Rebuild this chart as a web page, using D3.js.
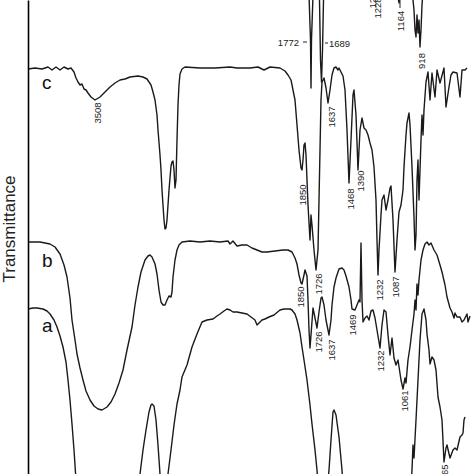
<!DOCTYPE html>
<html><head><meta charset="utf-8">
<script src="https://cdn.jsdelivr.net/npm/d3@7"></script>
<style>body{margin:0;background:#fff}svg{display:block}</style></head>
<body><svg id="chart" width="474" height="474"></svg>
<script>
// wavenumber (cm-1) , relative transmittance (arbitrary, offset-stacked units)
const seriesC=[[4048,405],[3992,406],[3936,405],[3888,407],[3856,404],[3824,407],[3792,404],[3760,407],[3728,405],[3704,406],[3680,402],[3664,396],[3648,392],[3632,389],[3616,390],[3600,385],[3584,384],[3568,381],[3544,377],[3512,374],[3472,377],[3432,382],[3392,387],[3352,391],[3312,394],[3272,395],[3232,397],[3168,398],[3128,397],[3096,395],[3064,389],[3048,382],[3032,374],[3016,359],[3008,344],[2992,319],[2984,304],[2976,284],[2968,269],[2960,254],[2952,245],[2944,246],[2936,254],[2928,269],[2920,284],[2912,296],[2904,308],[2896,312],[2888,313],[2880,304],[2872,286],[2864,294],[2856,334],[2848,369],[2840,389],[2832,400],[2816,405],[2792,407],[2672,406],[2552,406],[2432,407],[2376,406],[2272,406],[2208,407],[2160,404],[2112,407],[2032,406],[1992,403],[1968,399],[1944,394],[1928,384],[1912,374],[1896,349],[1880,324],[1864,306],[1856,304],[1848,314],[1840,329],[1832,331],[1824,319],[1816,294],[1808,269],[1792,234],[1784,259],[1776,249],[1760,224],[1744,204],[1728,224],[1720,274],[1712,324],[1704,374],[1696,392],[1680,396],[1664,386],[1648,371],[1632,384],[1616,399],[1600,406],[1584,407],[1568,404],[1560,406],[1544,402],[1528,398],[1512,384],[1496,344],[1480,291],[1464,334],[1448,379],[1440,384],[1424,359],[1408,304],[1392,344],[1376,356],[1360,346],[1344,344],[1328,339],[1312,331],[1296,324],[1280,307],[1264,274],[1256,234],[1248,199],[1240,224],[1224,259],[1216,274],[1200,279],[1184,264],[1168,274],[1152,286],[1144,288],[1128,254],[1112,202],[1096,234],[1080,262],[1064,269],[1048,284],[1040,307],[1024,339],[1016,351],[1000,361],[992,349],[976,307],[960,257],[952,224],[944,239],[936,294],[928,314],[920,274],[912,304],[904,334],[896,359],[888,339],[880,364],[864,392],[848,402],[832,374],[816,401],[792,377],[776,404],[752,391],[720,406],[704,367],[680,387],[664,399],[648,402],[616,401],[592,377],[576,404],[552,404],[536,406]];

const seriesB=[[4048,232],[3952,232],[3872,230],[3832,227],[3792,220],[3760,209],[3736,197],[3712,176],[3696,154],[3672,134],[3656,120],[3632,106],[3608,94],[3584,83],[3552,74],[3520,68],[3488,65],[3456,64],[3416,67],[3384,72],[3352,80],[3320,91],[3288,104],[3256,124],[3216,147],[3192,169],[3168,187],[3144,202],[3112,214],[3088,218],[3072,219],[3056,217],[3032,210],[3016,200],[3000,184],[2984,172],[2968,169],[2952,169],[2936,174],[2920,178],[2904,177],[2896,182],[2888,197],[2872,214],[2856,224],[2840,229],[2816,232],[2752,233],[2672,232],[2592,233],[2512,232],[2448,233],[2432,230],[2408,233],[2376,228],[2336,229],[2296,229],[2256,226],[2216,224],[2176,222],[2136,222],[2072,223],[2008,224],[1968,224],[1936,222],[1912,216],[1896,210],[1880,199],[1864,191],[1856,190],[1840,199],[1832,204],[1816,198],[1808,174],[1800,144],[1792,126],[1784,139],[1768,166],[1752,156],[1736,146],[1720,162],[1704,176],[1696,177],[1680,169],[1664,154],[1640,139],[1624,154],[1616,169],[1600,187],[1584,196],[1560,205],[1536,206],[1520,204],[1504,198],[1480,187],[1464,174],[1456,165],[1432,164],[1416,169],[1400,174],[1392,172],[1384,231],[1376,174],[1368,152],[1352,156],[1336,158],[1320,154],[1304,163],[1288,164],[1272,156],[1256,144],[1232,126],[1216,149],[1200,164],[1184,162],[1168,139],[1152,119],[1136,136],[1120,116],[1104,109],[1088,114],[1064,94],[1048,85],[1032,96],[1024,91],[1008,114],[992,127],[976,144],[960,160],[952,174],[944,164],[936,190],[928,179],[920,194],[904,214],[888,224],[872,230],[856,232],[840,229],[824,231],[800,224],[776,219],[752,209],[736,202],[712,189],[696,177],[672,166],[656,162],[640,156],[632,161],[616,157],[592,157],[576,152],[560,154],[544,158],[536,160],[528,152],[512,158]];

const seriesA=[[4048,165],[4008,166],[3976,166],[3928,165],[3896,163],[3872,160],[3840,154],[3816,147],[3792,138],[3768,127],[3744,112],[3728,94],[3712,74],[3696,50],[3680,24],[3664,-6],[3592,-56],[3232,-56],[3152,0],[3128,24],[3104,44],[3080,62],[3064,69],[3056,70],[3040,68],[3024,54],[3008,29],[2992,0],[2976,-26],[2952,-31],[2928,0],[2904,24],[2880,49],[2856,70],[2832,84],[2816,97],[2776,109],[2736,127],[2696,140],[2656,152],[2616,154],[2568,155],[2536,158],[2512,160],[2480,163],[2456,165],[2432,164],[2408,162],[2376,162],[2336,161],[2296,160],[2264,157],[2232,154],[2216,149],[2200,151],[2176,154],[2152,155],[2120,157],[2080,159],[2032,164],[2000,165],[1976,165],[1952,165],[1936,164],[1912,160],[1896,154],[1872,141],[1856,127],[1840,114],[1816,94],[1792,69],[1776,50],[1752,24],[1736,4],[1720,-26],[1664,-26],[1640,4],[1624,34],[1608,62],[1600,64],[1584,59],[1560,37],[1536,4],[1520,-26],[1472,-66],[1072,-66],[992,-26],[976,4],[968,29],[960,16],[944,54],[928,94],[912,134],[896,160],[880,165],[864,154],[856,140],[840,124],[832,110],[816,117],[800,114],[784,104],[768,77],[752,67],[736,54],[720,12],[704,26],[696,29],[672,16],[648,24],[632,26],[616,24],[592,37],[576,39],[568,41],[560,54],[552,57]];

const seriesD=[[1872,504],[1800,479],[1788,434],[1784,386],[1780,434],[1768,479],[1728,494],[1716,474],[1708,414],[1700,392],[1692,424],[1684,474],[1632,504],[1096,484],[1080,471],[1064,484],[976,484],[960,464],[952,444],[944,437],[936,459],[928,441],[920,454],[912,427],[904,444],[896,469],[880,494],[752,504]];

const curveNames=["a","b","c"];
const curveNameWave=[3936,3936,3936];
const curveNameLevel=[142,207,385];

const peakText=["3508","1850","1637","1468","1390","1726","1232","1087","1850","1726","1637","1469","1232","1061","1065","918","1164","1228","1262"];
const peakWave=[3496,1856,1624,1472,1392,1728,1240,1112,1872,1728,1624,1456,1232,1040,720,904,1072,1256,1296];
const peakLevel=[361,279,357,275,293,190,184,187,177,132,124,149,113,73,-1,413,453,466,476];

const flatText=["1772","1689"];
const flatWave=[1880,1640];
const flatLevel=[432,431];

const svg=d3.select("#chart");
const W=474,H=474;
const x=d3.scaleLinear().domain([4000,400]).range([34,484]);
const y=d3.scaleLinear().domain([0,474]).range([H,0]);

svg.append("rect").attr("width",W).attr("height",H).attr("fill","#fff");
svg.append("clipPath").attr("id","clip").append("rect").attr("x",28).attr("y",0).attr("width",W-28).attr("height",H);

const line=d3.line().x(d=>x(d[0])).y(d=>y(d[1]));
const g=svg.append("g").attr("clip-path","url(#clip)");
[seriesA,seriesB,seriesC,seriesD].forEach(s=>{
  g.append("path").datum(s).attr("d",line).attr("fill","none")
   .attr("stroke","#1a1a1a").attr("stroke-width",1.4).attr("stroke-linejoin","round");
});

// y axis (no ticks)
svg.append("g").attr("transform","translate(28,0)")
  .call(d3.axisLeft(y).ticks(0).tickSizeOuter(0))
  .call(a=>a.select(".domain").attr("stroke","#000").attr("stroke-width",1.6));

svg.append("text").attr("transform",`translate(15,229) rotate(-90)`)
  .attr("text-anchor","middle").attr("font-family","Liberation Sans, Arial, sans-serif")
  .attr("font-size",17).attr("fill","#222").text("Transmittance");

curveNames.forEach((n,i)=>{
  svg.append("text").attr("x",x(curveNameWave[i])).attr("y",y(curveNameLevel[i]))
    .attr("font-family","Liberation Sans, Arial, sans-serif").attr("font-size",19)
    .attr("fill","#111").text(n);
});

peakText.forEach((t,i)=>{
  svg.append("text").attr("transform",`translate(${x(peakWave[i])},${y(peakLevel[i])}) rotate(-90)`)
    .attr("text-anchor","middle").attr("dominant-baseline","central")
    .attr("font-family","Liberation Sans, Arial, sans-serif").attr("font-size",9.5)
    .attr("fill","#222").text(t);
});

flatText.forEach((t,i)=>{
  svg.append("text").attr("x",x(flatWave[i])).attr("y",y(flatLevel[i]))
    .attr("text-anchor",i===0?"end":"start").attr("dominant-baseline","central")
    .attr("font-family","Liberation Sans, Arial, sans-serif").attr("font-size",9.5)
    .attr("fill","#222").text(t);
});
// dashes next to 1772 / 1689 and leader of 1164
const ticks=[[1848,1816,432],[1672,1648,431]];
ticks.forEach(d=>{
  svg.append("line").attr("x1",x(d[0])).attr("x2",x(d[1])).attr("y1",y(d[2])).attr("y2",y(d[2]))
    .attr("stroke","#222").attr("stroke-width",1);
});
svg.append("line").attr("x1",x(1072)).attr("x2",x(1072)).attr("y1",y(474)).attr("y2",y(466))
  .attr("stroke","#222").attr("stroke-width",1);
</script></body></html>
